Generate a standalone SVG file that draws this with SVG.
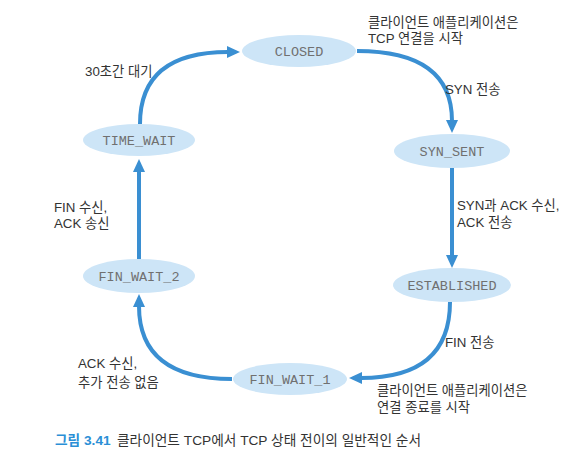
<svg xmlns="http://www.w3.org/2000/svg" width="577" height="469" viewBox="0 0 577 469">
<style>
.node ellipse{fill:#cde5f7;}
.node text{font-family:"Liberation Mono","DejaVu Sans Mono",monospace;font-size:13.5px;fill:#707070;text-anchor:middle;}
.edge{fill:none;stroke:#3a8fd2;stroke-width:4;marker-end:url(#ah);}
.lbl{font-family:"Liberation Sans","Noto Sans CJK KR",sans-serif;font-size:13.3px;fill:#333;}
.cap{font-family:"Liberation Sans","Noto Sans CJK KR",sans-serif;font-size:13.7px;fill:#333;}
</style>
<defs>
<marker id="ah" markerUnits="userSpaceOnUse" markerWidth="13" markerHeight="12" refX="1" refY="6" orient="auto">
<path d="M0,0 L13,6 L0,12 z" fill="#3a8fd2"/>
</marker>
</defs>
<rect width="577" height="469" fill="#fff"/>
<g id="connectors">
<path class="edge" d="M357,51 Q452,51 452,121"/>
<path class="edge" d="M452,168 L452,256"/>
<path class="edge" d="M450,302 Q450,378 361,378"/>
<path class="edge" d="M232,379 Q139,379 139,306"/>
<path class="edge" d="M139,259 L139,171"/>
<path class="edge" d="M140,124 Q140,52 228,52"/>
</g>
<g id="closed" class="node"><ellipse cx="299" cy="51" rx="57" ry="16"/><text x="299" y="56">CLOSED</text></g>
<g id="syn_sent" class="node"><ellipse cx="452" cy="151" rx="58" ry="17"/><text x="452" y="156">SYN_SENT</text></g>
<g id="established" class="node"><ellipse cx="452" cy="285" rx="59" ry="17"/><text x="452" y="290">ESTABLISHED</text></g>
<g id="fin_wait_1" class="node"><ellipse cx="290" cy="379" rx="57" ry="16"/><text x="290" y="384">FIN_WAIT_1</text></g>
<g id="fin_wait_2" class="node"><ellipse cx="139" cy="276" rx="56" ry="17"/><text x="139" y="281">FIN_WAIT_2</text></g>
<g id="time_wait" class="node"><ellipse cx="139" cy="140" rx="56" ry="16"/><text x="139" y="145">TIME_WAIT</text></g>
<g id="labels">
<text class="lbl" x="368" y="27">클라이언트 애플리케이션은</text>
<text class="lbl" x="368" y="43">TCP 연결을 시작</text>
<text class="lbl" x="445" y="94">SYN 전송</text>
<text class="lbl" x="457" y="210">SYN과 ACK 수신,</text>
<text class="lbl" x="457" y="227">ACK 전송</text>
<text class="lbl" x="445" y="347">FIN 전송</text>
<text class="lbl" x="377" y="395">클라이언트 애플리케이션은</text>
<text class="lbl" x="377" y="412">연결 종료를 시작</text>
<text class="lbl" x="78" y="368">ACK 수신,</text>
<text class="lbl" x="78" y="387">추가 전송 없음</text>
<text class="lbl" x="54" y="212">FIN 수신,</text>
<text class="lbl" x="54" y="228">ACK 송신</text>
<text class="lbl" x="85" y="76">30초간 대기</text>
<text class="cap" x="55" y="445"><tspan fill="#2b8fd6" font-weight="600">그림 3.41</tspan><tspan x="117">클라이언트 TCP에서 TCP 상태 전이의 일반적인 순서</tspan></text>
</g>
</svg>
